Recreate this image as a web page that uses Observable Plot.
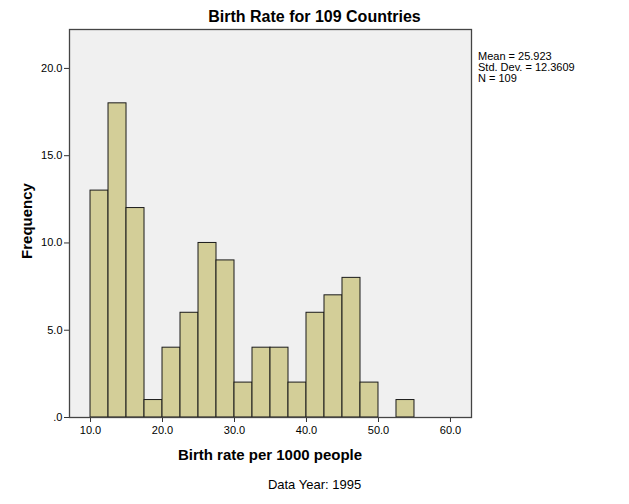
<!DOCTYPE html>
<html>
<head>
<meta charset="utf-8">
<script src="https://cdn.jsdelivr.net/npm/d3@7"></script>
<script src="https://cdn.jsdelivr.net/npm/@observablehq/plot@0.6"></script>
<style>
  html, body { margin: 0; padding: 0; background: #fff; }
  #wrap { position: relative; width: 629px; height: 504px; font-family: "Liberation Sans", Arial, sans-serif; }
  .t { position: absolute; white-space: nowrap; color: #000; }
</style>
</head>
<body>
<div id="wrap"></div>
<script>
// Histogram data: bin lower edges (width 2.5) and counts
const binStart = [10, 12.5, 15, 17.5, 20, 22.5, 25, 27.5, 30, 32.5, 35, 37.5, 40, 42.5, 45, 47.5, 50, 52.5];
const counts   = [13, 18, 12, 1, 4, 6, 10, 9, 2, 4, 4, 2, 6, 7, 8, 2, 0, 1];
const binWidth = 2.5;
const xTicks = [10, 20, 30, 40, 50, 60];
const yTicks = [0, 5, 10, 15, 20];
const titleText = "Birth Rate for 109 Countries";
const xLabel = "Birth rate per 1000 people";
const yLabel = "Frequency";
const caption = "Data Year: 1995";
const stats = ["Mean = 25.923", "Std. Dev. = 12.3609", "N = 109"];

const bins = binStart.map((s, i) => ({x1: s, x2: s + binWidth, count: counts[i]})).filter(d => d.count > 0);

const fmt = d => d === 0 ? ".0" : d.toFixed(1);

const chart = Plot.plot({
  width: 629,
  height: 504,
  marginLeft: 69,
  marginRight: 158,
  marginTop: 29,
  marginBottom: 87,
  style: {fontFamily: "Liberation Sans, Arial, sans-serif", fontSize: "11px", background: "#fff", color: "#000"},
  x: {domain: [7.08, 62.92]},
  y: {domain: [0, 22.23]},
  marks: [
    Plot.frame({fill: "#f0f0f0", stroke: "none"}),
    Plot.rectY(bins, {x1: "x1", x2: "x2", y: "count", fill: "#d3ce98", stroke: "#1a1a1a", strokeWidth: 1}),
    Plot.axisX({ticks: xTicks, tickFormat: fmt, tickSize: 5, tickPadding: 4, label: null, stroke: "#333"}),
    Plot.axisY({ticks: yTicks, tickFormat: fmt, tickSize: 5, tickPadding: 2, label: null, stroke: "#333"}),
    Plot.frame({stroke: "#444", strokeWidth: 1.3})
  ]
});
const wrap = document.getElementById("wrap");
wrap.appendChild(chart);

function addText(txt, css) {
  const d = document.createElement("div");
  d.className = "t";
  d.textContent = txt;
  Object.assign(d.style, css);
  wrap.appendChild(d);
  return d;
}
addText(titleText, {left: "0", width: "629px", textAlign: "center", top: "8px", fontSize: "16px", fontWeight: "bold"});
addText(xLabel, {left: "69px", width: "402px", textAlign: "center", top: "446px", fontSize: "15px", fontWeight: "bold"});
addText(caption, {left: "0", width: "629px", textAlign: "center", top: "477px", fontSize: "13px"});
addText(yLabel, {left: "26px", top: "221px", fontSize: "15px", fontWeight: "bold", transform: "translate(-50%,-50%) rotate(-90deg)"});
stats.forEach((s, i) => addText(s, {left: "478px", top: (50 + i * 10.8) + "px", fontSize: "11px", lineHeight: "12px"}));
</script>
</body>
</html>
